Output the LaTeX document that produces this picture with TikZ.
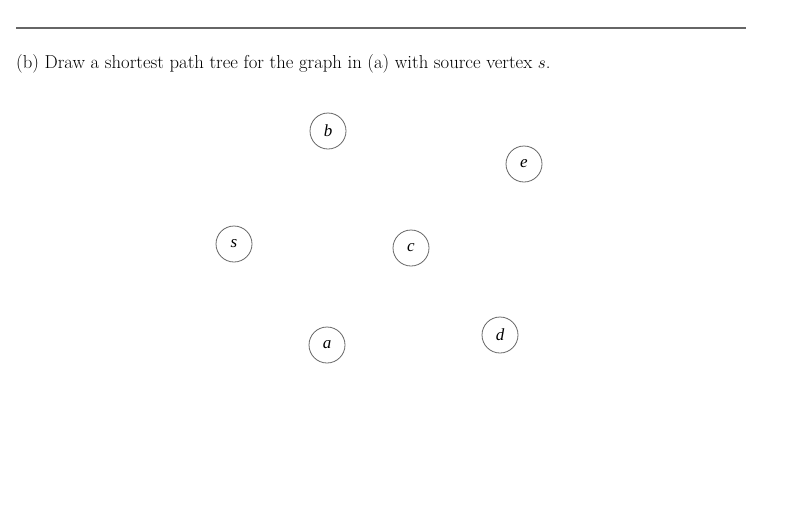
\documentclass[tikz,border=0pt]{standalone}
\usepackage{fontspec}
\newfontfamily\nodefont{Liberation Serif}
\begin{document}
\begin{tikzpicture}[x=1pt,y=-1pt,
  vtx/.style={circle,draw=black!60,line width=0.8pt,minimum size=36pt,inner sep=0pt,font=\nodefont\itshape\fontsize{17}{17}\selectfont},
  rule/.style={draw=black!60,line width=2pt}]
\useasboundingbox (0,0) rectangle (805,509);
\coordinate (l1) at (16,28);
\coordinate (l2) at (746,28);
\draw[rule] (l1) -- (l2);
\node[anchor=base west,inner sep=0pt,font=\fontsize{18.7}{22}\selectfont] (q) at (16,68) {(b) Draw a shortest path tree for the graph in (a) with source vertex $s$.};
\node[vtx] (b) at (328,131) {b};
\node[vtx] (e) at (524,164) {e};
\node[vtx] (s) at (234,244) {s};
\node[vtx] (c) at (411,248) {c};
\node[vtx] (d) at (500,335) {d};
\node[vtx] (a) at (327,345) {a};
\end{tikzpicture}
\end{document}
